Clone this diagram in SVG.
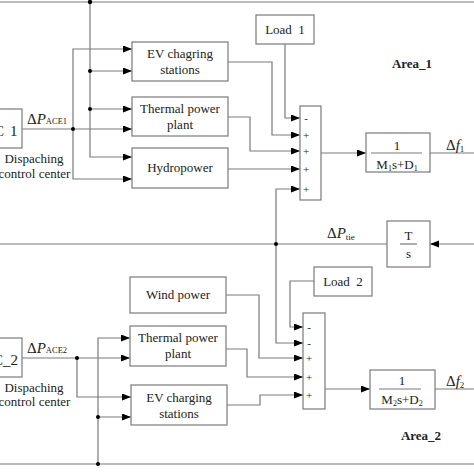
<svg xmlns="http://www.w3.org/2000/svg" width="474" height="474" viewBox="0 0 474 474">
<defs>
<marker id="arr" markerUnits="userSpaceOnUse" markerWidth="10" markerHeight="8" refX="9" refY="3.5" orient="auto">
<path d="M0,0 L9,3.5 L0,7 z" fill="#000"/>
</marker>
<style>
.box{fill:#fff;stroke:#7a7a7a;stroke-width:1.2}
.ln{fill:none;stroke:#7a7a7a;stroke-width:1.2}
.a{marker-end:url(#arr)}
.t{font-family:"Liberation Serif",serif;font-size:13px;fill:#222;text-anchor:middle}
.s{font-family:"Liberation Serif",serif;font-size:11px;fill:#222;text-anchor:middle;dominant-baseline:central}
.b{font-family:"Liberation Serif",serif;font-size:13px;font-weight:bold;fill:#222;text-anchor:middle}
.dot{fill:#000}
</style>
</defs>
<rect width="474" height="474" fill="#fff"/>

<g id="connectors">
<path class="ln" d="M0,2 H474"/>
<path class="ln" d="M0,464 H474"/>
<path class="ln a" d="M90,2 V157 H132"/>
<path class="ln a" d="M90,71 H132"/>
<path class="ln a" d="M90,109 H132"/>
<path class="ln a" d="M22,129 H132"/>
<path class="ln a" d="M73,129 V49 H132"/>
<path class="ln a" d="M73,129 V179 H132"/>
<path class="ln a" d="M228,62 H272 V135 H300"/>
<path class="ln a" d="M228,117 H250 V151 H300"/>
<path class="ln a" d="M228,169 H300"/>
<path class="ln a" d="M285,44 V118 H300"/>
<path class="ln a" d="M276,244 V189 H300"/>
<path class="ln a" d="M276,244 V343 H303"/>
<path class="ln a" d="M321,153 H366"/>
<path class="ln" d="M430,153 H474"/>
<path class="ln" d="M0,244 H387"/>
<path class="ln a" d="M474,244 H430"/>
<path class="ln a" d="M22,358 H130"/>
<path class="ln a" d="M77,358 V397 H131"/>
<path class="ln a" d="M98,464 V338 H130"/>
<path class="ln a" d="M98,417 H131"/>
<path class="ln a" d="M314,281 H290 V327 H303"/>
<path class="ln a" d="M226,295 H259 V358 H303"/>
<path class="ln a" d="M226,349 H247 V377 H303"/>
<path class="ln a" d="M227,405 H260 V395 H303"/>
<path class="ln a" d="M325,389 H370"/>
<path class="ln" d="M435,389 H474"/>
<circle class="dot" cx="90" cy="2" r="2.2"/>
<circle class="dot" cx="90" cy="71" r="2"/>
<circle class="dot" cx="90" cy="109" r="2"/>
<circle class="dot" cx="73" cy="129" r="2"/>
<circle class="dot" cx="276" cy="244" r="2"/>
<circle class="dot" cx="77" cy="358" r="2"/>
<circle class="dot" cx="98" cy="417" r="2"/>
<circle class="dot" cx="98" cy="464" r="2"/>
</g>

<g id="dcc1">
<rect class="box" x="-10" y="109" width="32" height="39"/>
<text font-family="Liberation Serif,serif" font-size="15" fill="#222" x="-6" y="136">C<tspan x="10">1</tspan></text>
<text class="t" x="34" y="163">Dispaching</text>
<text class="t" x="34.5" y="178" font-size="12.5">control center</text>
<text font-family="Liberation Serif,serif" fill="#222" x="27" y="124"><tspan font-size="15">Δ</tspan><tspan font-size="15" font-style="italic">P</tspan><tspan font-size="8.5">ACE1</tspan></text>
</g>

<g id="ev1">
<rect class="box" x="132" y="42" width="96" height="39"/>
<text class="t" x="180" y="58">EV chagring</text>
<text class="t" x="180" y="74">stations</text>
</g>
<g id="thermal1">
<rect class="box" x="132" y="97" width="96" height="39"/>
<text class="t" x="180" y="113">Thermal power</text>
<text class="t" x="180" y="129">plant</text>
</g>
<g id="hydro1">
<rect class="box" x="132" y="148" width="96" height="40"/>
<text class="t" x="180" y="172">Hydropower</text>
</g>
<g id="load1">
<rect class="box" x="256" y="15" width="58" height="29"/>
<text class="t" x="285" y="34" xml:space="preserve">Load  1</text>
</g>
<g id="sum1">
<rect class="box" x="300" y="106" width="21" height="94"/>
<text class="s" x="306" y="118">-</text>
<text class="s" x="306" y="135">+</text>
<text class="s" x="306" y="151">+</text>
<text class="s" x="306" y="169">+</text>
<text class="s" x="306" y="189">+</text>
</g>
<g id="plant1">
<rect class="box" x="366" y="133" width="64" height="39"/>
<text class="t" x="397" y="150">1</text>
<path class="ln" d="M371,153 H422" stroke="#333"/>
<text class="t" x="397" y="169">M<tspan font-size="8" dy="2">1</tspan><tspan dy="-2">s+D</tspan><tspan font-size="8" dy="2">1</tspan></text>
<text font-family="Liberation Serif,serif" fill="#222" x="446" y="150"><tspan font-size="15">Δ</tspan><tspan font-size="15" font-style="italic">f</tspan><tspan font-size="9" dy="2">1</tspan></text>
</g>
<text class="b" x="412" y="68">Area_1</text>

<g id="tie">
<rect class="box" x="387" y="221" width="43" height="46"/>
<text class="t" x="408.5" y="240">T</text>
<path class="ln" d="M400,244 H417" stroke="#333"/>
<text class="t" x="408.5" y="258">s</text>
<text font-family="Liberation Serif,serif" fill="#222" x="327" y="238"><tspan font-size="15">Δ</tspan><tspan font-size="15" font-style="italic">P</tspan><tspan font-size="9" dy="2">tie</tspan></text>
</g>

<g id="dcc2">
<rect class="box" x="-10" y="338" width="32" height="39"/>
<text font-family="Liberation Serif,serif" font-size="15" fill="#222" x="-7" y="365">C_2</text>
<text class="t" x="34" y="392">Dispaching</text>
<text class="t" x="34.5" y="406" font-size="12.5">control center</text>
<text font-family="Liberation Serif,serif" fill="#222" x="27" y="353"><tspan font-size="15">Δ</tspan><tspan font-size="15" font-style="italic">P</tspan><tspan font-size="8.5">ACE2</tspan></text>
</g>
<g id="wind2">
<rect class="box" x="130" y="277" width="96" height="36"/>
<text class="t" x="178" y="299">Wind power</text>
</g>
<g id="thermal2">
<rect class="box" x="130" y="326" width="96" height="40"/>
<text class="t" x="178" y="342">Thermal power</text>
<text class="t" x="178" y="358">plant</text>
</g>
<g id="ev2">
<rect class="box" x="131" y="385" width="96" height="40"/>
<text class="t" x="179" y="402">EV charging</text>
<text class="t" x="179" y="418">stations</text>
</g>
<g id="load2">
<rect class="box" x="314" y="267" width="58" height="29"/>
<text class="t" x="343" y="286" xml:space="preserve">Load  2</text>
</g>
<g id="sum2">
<rect class="box" x="303" y="313" width="22" height="96"/>
<text class="s" x="309" y="327">-</text>
<text class="s" x="309" y="343">-</text>
<text class="s" x="309" y="358">+</text>
<text class="s" x="309" y="377">+</text>
<text class="s" x="309" y="395">+</text>
</g>
<g id="plant2">
<rect class="box" x="370" y="370" width="65" height="39"/>
<text class="t" x="402" y="385">1</text>
<path class="ln" d="M379,389 H421" stroke="#333"/>
<text class="t" x="402" y="404">M<tspan font-size="8" dy="2">2</tspan><tspan dy="-2">s+D</tspan><tspan font-size="8" dy="2">2</tspan></text>
<text font-family="Liberation Serif,serif" fill="#222" x="446" y="386"><tspan font-size="15">Δ</tspan><tspan font-size="15" font-style="italic">f</tspan><tspan font-size="9" dy="2">2</tspan></text>
</g>
<text class="b" x="421" y="440">Area_2</text>
</svg>
